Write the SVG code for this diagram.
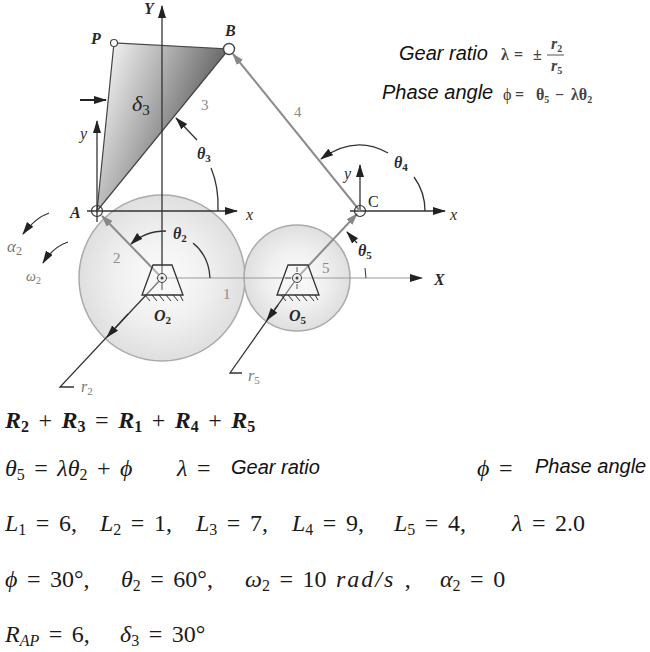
<svg xmlns="http://www.w3.org/2000/svg" width="650" height="652" viewBox="0 0 650 652">
<style>
text{font-family:"Liberation Serif",serif;fill:#222}
.i{font-style:italic}
.b{font-weight:bold;font-style:italic}
.s{font-family:"Liberation Sans",sans-serif;font-style:italic;font-size:20px;fill:#111}
.m{font-size:24px;fill:#1a1a1a;word-spacing:3.5px}
.l{font-size:16px;font-style:italic;fill:#2a2a2a}
.lb{font-size:16px;font-style:italic;fill:#2a2a2a;font-weight:bold}
.g{fill:#8a8a8a;font-size:15px}
.e{font-size:16px;font-weight:bold;fill:#444}
.ln{fill:none;stroke:#333;stroke-width:1.3}
.gl{fill:none;stroke:#8c8c8c;stroke-width:2}
.hat{stroke:#333;stroke-width:1}
</style>
<defs>
<radialGradient id="gear"><stop offset="0" stop-color="#fcfcfc"/><stop offset="0.55" stop-color="#f0f0f0"/><stop offset="1" stop-color="#dfdfdf"/></radialGradient>
<linearGradient id="plate" gradientUnits="userSpaceOnUse" x1="110" y1="50" x2="215" y2="90"><stop offset="0" stop-color="#f0f0f0"/><stop offset="0.45" stop-color="#b5b5b5"/><stop offset="1" stop-color="#666"/></linearGradient>
<marker id="a" markerWidth="14" markerHeight="10" refX="12" refY="4" orient="auto" markerUnits="userSpaceOnUse"><path d="M0 0L13 4L0 8z" fill="#222"/></marker>
<marker id="ag" markerWidth="14" markerHeight="10" refX="11" refY="4" orient="auto" markerUnits="userSpaceOnUse"><path d="M0 0L12 4L0 8z" fill="#888"/></marker>
</defs>

<g id="gear-2"><circle cx="162" cy="278" r="83" fill="url(#gear)" stroke="#aaa" stroke-width="1.5"/></g>
<g id="gear-5"><circle cx="297" cy="278" r="53" fill="url(#gear)" stroke="#aaa" stroke-width="1.5"/></g>
<g id="link-3-plate"><path d="M97 211L114 43L229 49Z" fill="url(#plate)" stroke="#444" stroke-width="1.2"/></g>

<g id="connectors">
<path class="ln" d="M162 290V6" marker-end="url(#a)"/>
<path d="M156 278H422" fill="none" stroke="#999" stroke-width="1" marker-end="url(#a)"/>
<path class="ln" d="M87 211H237" marker-end="url(#a)"/>
<path class="ln" d="M97 222V121" marker-end="url(#a)"/>
<path class="ln" d="M350 211H445" marker-end="url(#a)"/>
<path class="ln" d="M360 211V165" marker-end="url(#a)"/>
<path class="gl" d="M162 278L102 216" marker-end="url(#ag)"/>
<path class="gl" d="M360 211L233 54" marker-end="url(#ag)"/>
<path class="gl" d="M297 278L357 214" marker-end="url(#ag)"/>
<path class="ln" d="M162 278L60 387H74"/>
<path class="ln" d="M128 314L107 337" marker-end="url(#a)"/>
<path class="ln" d="M297 278L230 373H242"/>
<path class="ln" d="M278 305L267 320" marker-end="url(#a)"/>
<path fill="none" stroke="#222" stroke-width="2" d="M80 100H106" marker-end="url(#a)"/>
<path class="ln" d="M197 140L176 118" marker-end="url(#a)"/>
<path class="ln" d="M211 168Q219 187 218 211"/>
<path class="ln" d="M166 231Q145 231 131 244" marker-end="url(#a)"/>
<path class="ln" d="M193 243Q209 256 210 278"/>
<path class="ln" d="M388 153Q355 134 321 159" marker-end="url(#a)"/>
<path class="ln" d="M414 177Q425 192 425 211"/>
<path class="ln" d="M357 243L347 232" marker-end="url(#a)"/>
<path d="M365 268L366 278" fill="none" stroke="#333"/>
<path class="ln" d="M49 213Q35 218 23 234" marker-end="url(#a)"/>
<path class="ln" d="M68 242Q53 247 43 263" marker-end="url(#a)"/>
</g>

<g id="pin-P"><circle cx="114" cy="43" r="3.5" fill="#fff" stroke="#444" stroke-width="1.2"/></g>
<g id="pin-B"><circle cx="229" cy="49" r="5.5" fill="#fff" stroke="#444" stroke-width="1.4"/></g>
<g id="pin-A"><circle cx="97" cy="211" r="5.5" fill="none" stroke="#333" stroke-width="1.2"/></g>
<g id="pin-C"><circle cx="360" cy="211" r="5.5" fill="none" stroke="#333" stroke-width="1.2"/></g>

<g id="ground-2">
<path d="M153 265H172L183 295H142Z" fill="#f6f6f6" fill-opacity=".35" stroke="#333" stroke-width="1.3"/>
<path class="hat" d="M145 295l5 6M152 295l5 6M159 295l5 6M166 295l5 6M173 295l5 6M180 295l3 6"/>
<circle cx="162" cy="278" r="4.5" fill="#eee" stroke="#444"/><circle cx="162" cy="278" r="1.5" fill="#444"/>
</g>
<g id="ground-5">
<path d="M288 265H308L319 295H277Z" fill="#f6f6f6" fill-opacity=".35" stroke="#333" stroke-width="1.3"/>
<path class="hat" d="M281 295l5 6M288 295l5 6M295 295l5 6M302 295l5 6M309 295l5 6M315 295l3 5"/>
<path d="M297 267V272M297 284V289M285 278H291" fill="none" stroke="#555"/>
<circle cx="297" cy="278" r="4.5" fill="#eee" stroke="#444"/><circle cx="297" cy="278" r="1.5" fill="#444"/>
</g>

<g id="diagram-labels">
<text class="lb" x="144" y="14">Y</text>
<text class="lb" x="91" y="44">P</text>
<text class="lb" x="225" y="36">B</text>
<text class="lb" x="70" y="218">A</text>
<text class="l" x="80" y="139">y</text>
<text class="l" x="246" y="220">x</text>
<text class="l" x="344" y="179">y</text>
<text x="368" y="207" font-size="16" fill="#333">C</text>
<text class="l" x="450" y="220">x</text>
<text class="lb" x="434" y="285">X</text>
<text class="i" x="132" y="111" font-size="22">δ<tspan font-size="15" dy="4" font-style="normal">3</tspan></text>
<text class="g" x="201" y="110">3</text>
<text class="g" x="294" y="117">4</text>
<text class="g" x="113" y="263">2</text>
<text class="g" x="223" y="299">1</text>
<text class="g" x="322" y="273">5</text>
<text class="lb" x="197" y="159">θ<tspan font-size="11" dy="3" font-style="normal">3</tspan></text>
<text class="lb" x="173" y="239">θ<tspan font-size="11" dy="3" font-style="normal">2</tspan></text>
<text class="lb" x="394" y="168">θ<tspan font-size="11" dy="3" font-style="normal">4</tspan></text>
<text class="lb" x="358" y="256">θ<tspan font-size="11" dy="3" font-style="normal">5</tspan></text>
<text class="lb" x="154" y="321">O<tspan font-size="11" dy="3" font-style="normal">2</tspan></text>
<text class="lb" x="289" y="321">O<tspan font-size="11" dy="3" font-style="normal">5</tspan></text>
<text class="i" x="7" y="252" font-size="17" style="fill:#777">α<tspan font-size="12" dy="3" font-style="normal">2</tspan></text>
<text class="i" x="26" y="281" font-size="14" style="fill:#777">ω<tspan font-size="10" dy="3" font-style="normal">2</tspan></text>
<text class="i" x="81" y="392" font-size="16" style="fill:#777">r<tspan font-size="11" dy="3" font-style="normal">2</tspan></text>
<text class="i" x="248" y="381" font-size="16" style="fill:#777">r<tspan font-size="11" dy="3" font-style="normal">5</tspan></text>
</g>

<g id="top-equations">
<text class="s" x="399" y="60">Gear ratio</text>
<text class="s" x="382" y="99">Phase angle</text>
<text class="e" x="501" y="60">λ</text>
<text class="e" x="514" y="60">=</text>
<text class="e" x="533" y="60">±</text>
<text class="e" x="551" y="49" font-style="italic">r<tspan font-size="10" dy="3" font-style="normal">2</tspan></text>
<path d="M547 55H564" stroke="#555" stroke-width="1"/>
<text class="e" x="551" y="71" font-style="italic">r<tspan font-size="10" dy="3" font-style="normal">5</tspan></text>
<text x="503" y="100" font-size="16" style="fill:#333">ϕ</text>
<text class="e" x="515" y="100">=</text>
<text class="e" x="536" y="100">θ<tspan font-size="10" dy="3">5</tspan></text>
<text class="e" x="555" y="100">−</text>
<text class="e" x="571" y="100">λθ<tspan font-size="10" dy="3">2</tspan></text>
</g>

<g id="equations">
<text class="m" x="5" y="428" font-weight="bold"><tspan class="b">R</tspan><tspan font-size="16" dy="4">2</tspan><tspan dy="-4" font-weight="normal"> + </tspan><tspan class="b">R</tspan><tspan font-size="16" dy="4">3</tspan><tspan dy="-4" font-weight="normal"> = </tspan><tspan class="b">R</tspan><tspan font-size="16" dy="4">1</tspan><tspan dy="-4" font-weight="normal"> + </tspan><tspan class="b">R</tspan><tspan font-size="16" dy="4">4</tspan><tspan dy="-4" font-weight="normal"> + </tspan><tspan class="b">R</tspan><tspan font-size="16" dy="4">5</tspan></text>
<text class="m" x="5" y="476"><tspan class="i">θ</tspan><tspan font-size="16" dy="4">5</tspan><tspan dy="-4"> = </tspan><tspan class="i">λθ</tspan><tspan font-size="16" dy="4">2</tspan><tspan dy="-4"> + </tspan><tspan class="i">ϕ</tspan></text>
<text class="m" x="177" y="476"><tspan class="i">λ</tspan> =</text>
<text class="s" x="231" y="474">Gear ratio</text>
<text class="m" x="477" y="476"><tspan class="i">ϕ</tspan> =</text>
<text class="s" x="535" y="473">Phase angle</text>
<text class="m" x="5" y="531"><tspan class="i">L</tspan><tspan font-size="16" dy="4">1</tspan><tspan dy="-4"> = 6,</tspan></text>
<text class="m" x="100" y="531"><tspan class="i">L</tspan><tspan font-size="16" dy="4">2</tspan><tspan dy="-4"> = 1,</tspan></text>
<text class="m" x="196" y="531"><tspan class="i">L</tspan><tspan font-size="16" dy="4">3</tspan><tspan dy="-4"> = 7,</tspan></text>
<text class="m" x="292" y="531"><tspan class="i">L</tspan><tspan font-size="16" dy="4">4</tspan><tspan dy="-4"> = 9,</tspan></text>
<text class="m" x="394" y="531"><tspan class="i">L</tspan><tspan font-size="16" dy="4">5</tspan><tspan dy="-4"> = 4,</tspan></text>
<text class="m" x="512" y="531"><tspan class="i">λ</tspan> = 2.0</text>
<text class="m" x="5" y="587"><tspan class="i">ϕ</tspan> = 30°,</text>
<text class="m" x="121" y="587"><tspan class="i">θ</tspan><tspan font-size="16" dy="4">2</tspan><tspan dy="-4"> = 60°,</tspan></text>
<text class="m" x="245" y="587"><tspan class="i">ω</tspan><tspan font-size="16" dy="4">2</tspan><tspan dy="-4"> = 10 </tspan><tspan class="i" letter-spacing="2">rad/s</tspan> ,</text>
<text class="m" x="440" y="587"><tspan class="i">α</tspan><tspan font-size="16" dy="4">2</tspan><tspan dy="-4"> = 0</tspan></text>
<text class="m" x="5" y="642"><tspan class="i">R</tspan><tspan class="i" font-size="16" dy="4">AP</tspan><tspan dy="-4"> = 6,</tspan></text>
<text class="m" x="120" y="642"><tspan class="i">δ</tspan><tspan font-size="16" dy="4">3</tspan><tspan dy="-4"> = 30°</tspan></text>
</g>
</svg>
